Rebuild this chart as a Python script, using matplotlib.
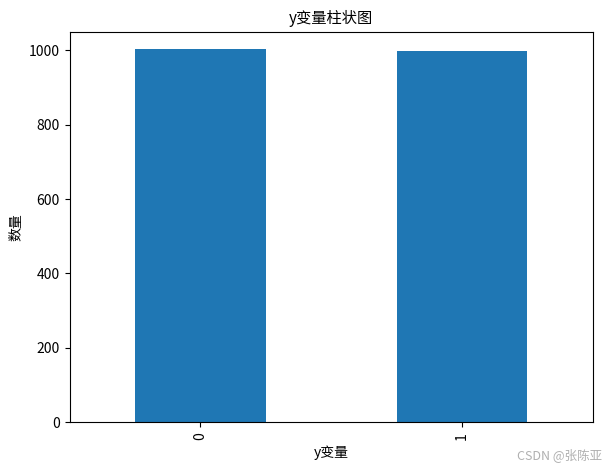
import matplotlib
matplotlib.use("Agg")
import matplotlib.pyplot as plt

plt.rcParams['font.family'] = ['Noto Sans CJK SC', 'DejaVu Sans']
plt.rcParams['axes.unicode_minus'] = False

categories = ['0', '1']
counts = [1003, 999]
title = 'y变量柱状图'
xlabel = 'y变量'
ylabel = '数量'

fig = plt.figure(figsize=(6.05, 4.68), dpi=100)
ax = fig.add_axes([0.115, 0.098, 0.865, 0.834])
x = list(range(len(categories)))
ax.bar(x, counts, width=0.5, color='#1f77b4')
ax.set_xlim(-0.5, len(categories) - 0.5)
ax.set_ylim(0, 1050)
ax.set_xticks(x)
ax.set_xticklabels(categories, rotation=90)
ax.set_yticks([0, 200, 400, 600, 800, 1000])
ax.set_title(title, fontsize=11)
ax.set_xlabel(xlabel, fontsize=10)
ax.set_ylabel(ylabel, fontsize=10)

fig.text(0.995, 0.012, 'CSDN @张陈亚', ha='right', va='bottom', fontsize=9, color='#b0b0b0')

fig.savefig('out.png', dpi=100)
